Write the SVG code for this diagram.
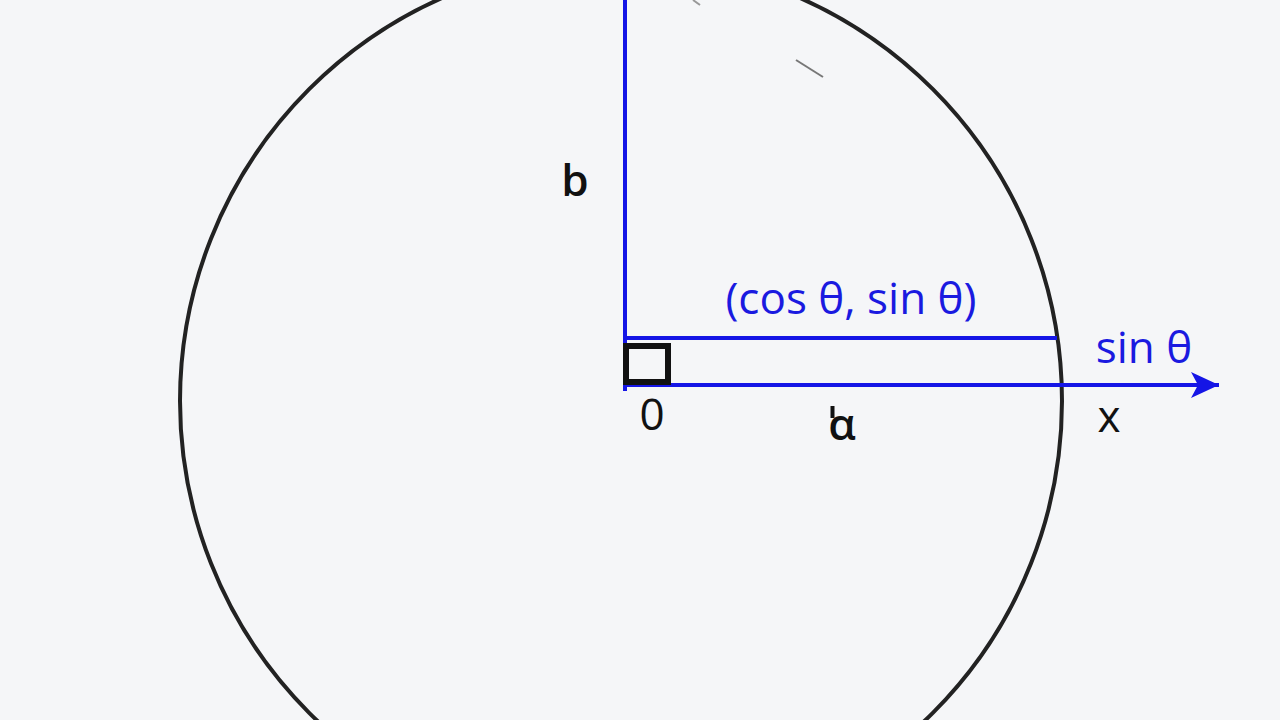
<svg xmlns="http://www.w3.org/2000/svg" width="1280" height="720" viewBox="0 0 1280 720">
<defs>
<style>
.blue{stroke:#1515e6;fill:none;stroke-width:4}
.lbl{font-family:"Open Sans","Noto Sans","Liberation Sans",sans-serif;font-size:44px;text-anchor:middle}
.k{fill:#111}
.b{fill:#1a1ae0}
</style>
<marker id="arr" markerUnits="userSpaceOnUse" markerWidth="30" markerHeight="30" viewBox="0 0 30 30" refX="28" refY="15" orient="auto">
<path d="M0,2 L28,15 L0,28 L7,15 Z" fill="#1515e6"/>
</marker>
</defs>
<rect width="1280" height="720" fill="#f5f6f8"/>
<g id="circle">
<circle cx="621" cy="401" r="441" fill="none" stroke="#222" stroke-width="4"/>
</g>
<g id="marks">
<line x1="796" y1="60" x2="823" y2="77" stroke="#777" stroke-width="2"/>
<line x1="693" y1="0" x2="700" y2="5" stroke="#999" stroke-width="2"/>
</g>
<g id="connectors">
<line class="blue" x1="625" y1="0" x2="625" y2="391"/>
<line class="blue" x1="625" y1="338" x2="1057" y2="338"/>
<line class="blue" x1="625" y1="385" x2="1219" y2="385" marker-end="url(#arr)"/>
</g>
<g id="right-angle">
<rect x="626" y="346" width="42" height="36" fill="none" stroke="#111" stroke-width="6"/>
</g>
<g id="labels">
<text class="lbl k" x="575" y="196" font-size="47" font-weight="600">b</text>
<text class="lbl b" x="851" y="314">(cos θ, sin θ)</text>
<text class="lbl b" x="1144" y="363">sin θ</text>
<text class="lbl k" x="652" y="430">0</text>
<text class="lbl k" x="842" y="440" font-weight="600">α</text>
<line x1="832.5" y1="406" x2="832.5" y2="418" stroke="#111" stroke-width="4"/>
<text class="lbl k" x="1109" y="432">x</text>
</g>
</svg>
